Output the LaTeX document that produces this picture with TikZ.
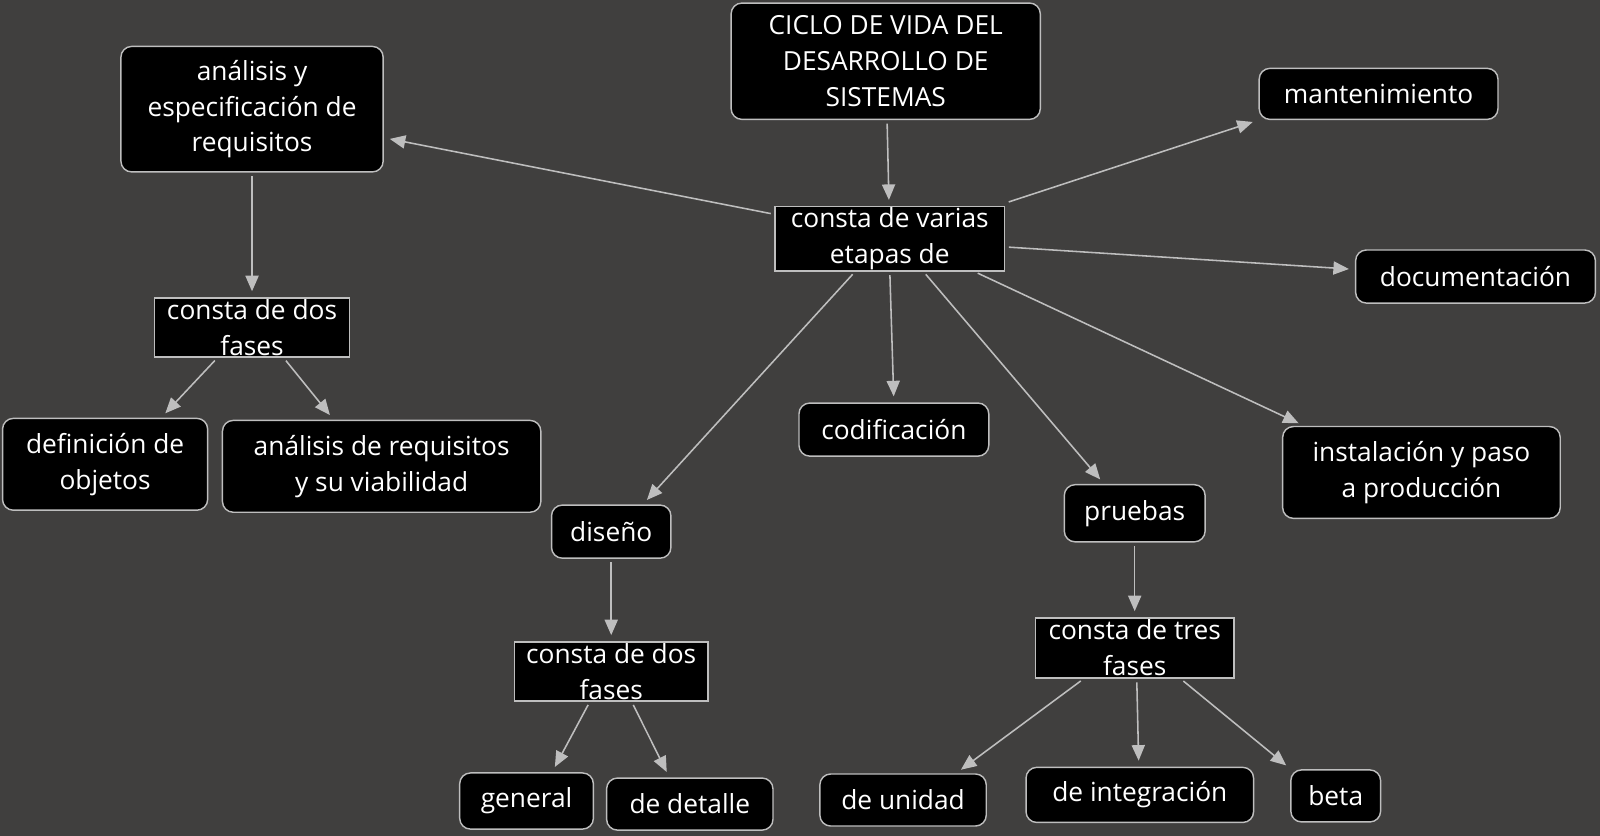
\documentclass[tikz,border=0pt]{standalone}
\usepackage{fontspec}
\setmainfont{Open Sans}
\usetikzlibrary{arrows.meta}
\definecolor{bg}{RGB}{64,63,62}
\definecolor{ln}{RGB}{190,190,190}
\begin{document}
\begin{tikzpicture}[x=0.03cm,y=-0.03cm,
 box/.style={draw=ln,line width=1.2pt,fill=black,text=white,rounded corners=9pt,align=center,inner sep=0pt,font=\fontsize{22}{30}\selectfont},
 rbox/.style={draw=ln,line width=1.2pt,fill=black,text=white,align=center,inner sep=0pt,font=\fontsize{22}{30}\selectfont},
 ar/.style={draw=ln,line width=1.3pt,-{Triangle[length=13pt,width=11pt]},shorten >=5pt,shorten <=3pt}]
\fill[bg] (0,0) rectangle (1568,819);
\useasboundingbox (0,0) rectangle (1568,819);
\newcommand{\bx}[6]{\node[#1,minimum width=#4*0.03cm,minimum height=#5*0.03cm] (#2) at #3 {#6};}
\bx{box}{t}{(868,60)}{303}{114}{CICLO DE VIDA DEL\\DESARROLLO DE\\SISTEMAS}
\bx{box}{a}{(247,107)}{257}{123}{análisis y\\especificación de\\requisitos}
\bx{box}{m}{(1351,92)}{234}{50}{mantenimiento}
\bx{rbox}{c}{(872,234)}{225}{63}{consta de varias\\etapas de}
\bx{box}{d}{(1446,271)}{235}{52}{documentación}
\bx{rbox}{f1}{(247,321)}{191}{58}{consta de dos\\fases}
\bx{box}{co}{(876,421)}{186}{52}{codificación}
\bx{box}{in}{(1393,463)}{272}{90}{instalación y paso\\a producción}
\bx{box}{de}{(103,455)}{201}{90}{definición de\\objetos}
\bx{box}{ar}{(374,457)}{312}{90}{análisis de requisitos\\y su viabilidad}
\bx{box}{di}{(599,521)}{117}{52}{diseño}
\bx{box}{p}{(1112,503)}{138}{56}{pruebas}
\bx{rbox}{f2}{(599,658)}{190}{58}{consta de dos\\fases}
\bx{rbox}{f3}{(1112,635)}{195}{59}{consta de tres\\fases}
\bx{box}{g}{(516,785)}{131}{55}{general}
\bx{box}{dt}{(676,788)}{163}{51}{de detalle}
\bx{box}{u}{(885,784)}{163}{51}{de unidad}
\bx{box}{ig}{(1117,779)}{223}{54}{de integración}
\bx{box}{b}{(1309,780)}{88}{51}{beta}
\draw[ar] (t) -- (c);
\draw[ar] (c.west|-0,210) -- (a.east|-0,135);
\draw[ar] (c.east|-0,199) -- (m.south west);
\draw[ar] (c.east|-0,242) -- (d.west|-0,264);
\draw[ar] (c.south-|838,0) -- (di.north-|630,0);
\draw[ar] (c.south) -- (co.north);
\draw[ar] (c.south-|905,0) -- (p.north-|1082,0);
\draw[ar] (c.south-|955,0) -- (in.north-|1278,0);
\draw[ar] (a) -- (f1);
\draw[ar] (f1.south-|213,0) -- (de.north-|158,0);
\draw[ar] (f1.south-|278,0) -- (ar.north-|327,0);
\draw[ar] (di) -- (f2);
\draw[ar] (f2.south-|578,0) -- (g.north-|541,0);
\draw[ar] (f2.south-|619,0) -- (dt.north-|656,0);
\draw[ar] (p) -- (f3);
\draw[ar] (f3.south-|1062,0) -- (u.north-|937,0);
\draw[ar] (f3.south-|1114,0) -- (ig.north-|1116,0);
\draw[ar] (f3.south-|1157,0) -- (b.north-|1265,0);
\end{tikzpicture}
\end{document}
